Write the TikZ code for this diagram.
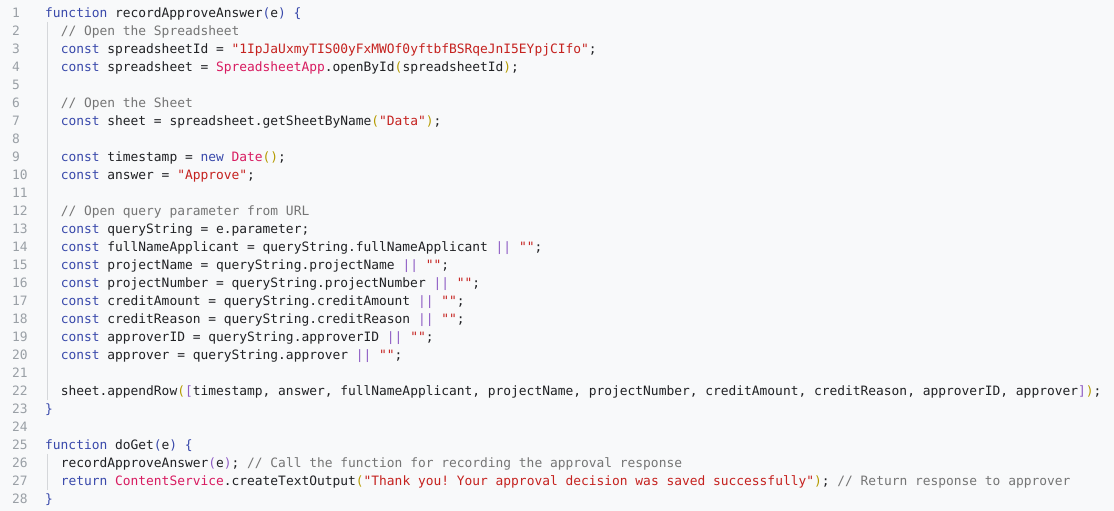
\documentclass[tikz,border=0pt]{standalone}
\usepackage{fontspec}
\setmonofont{DejaVu Sans Mono}
\definecolor{bgc}{HTML}{F8F9FA}
\definecolor{txc}{HTML}{202124}
\definecolor{kwc}{HTML}{3949AB}
\definecolor{cmc}{HTML}{757575}
\definecolor{stc}{HTML}{C5221F}
\definecolor{clc}{HTML}{D81B60}
\definecolor{pbc}{HTML}{B59B00}
\definecolor{pcc}{HTML}{8E5CC4}
\definecolor{lnc}{HTML}{9AA0A6}
\definecolor{guc}{HTML}{D5D7DA}
\newcommand{\Kw}[1]{\textcolor{kwc}{#1}}
\newcommand{\Cm}[1]{\textcolor{cmc}{#1}}
\newcommand{\Sq}[1]{\textcolor{stc}{#1}}
\newcommand{\Cl}[1]{\textcolor{clc}{#1}}
\newcommand{\PA}[1]{\textcolor{kwc}{#1}}
\newcommand{\PB}[1]{\textcolor{pbc}{#1}}
\newcommand{\PC}[1]{\textcolor{pcc}{#1}}
\tikzset{codeline/.style={anchor=base west,inner sep=0pt,font=\fontsize{12.9}{15}\ttfamily,text=txc},
lnum/.style={anchor=base west,inner sep=0pt,font=\fontsize{12.9}{15}\ttfamily,text=lnc},
guide/.style={draw=guc,line width=0.8pt}}
\newcommand{\CL}[3]{\node[lnum] (n#1) at (12,{511-13-18*(#1-1)-4.5}) {#1};
\node[codeline] (l#1) at ({45+#2*15.58},{511-13-18*(#1-1)-4.5}) {#3};}
\begin{document}
\begin{tikzpicture}[x=1pt,y=1pt]
\fill[bgc] (0,0) rectangle (1114,511);
\useasboundingbox (0,0) rectangle (1114,511);
\coordinate (g1a) at (47,{511-22}); \coordinate (g1b) at (47,{511-13-18*21-9});
\coordinate (g2a) at (47,{511-13-18*25+9}); \coordinate (g2b) at (47,{511-13-18*26-9});
\draw[guide] (g1a) -- (g1b);
\draw[guide] (g2a) -- (g2b);
\CL{1}{0}{\Kw{function} recordApproveAnswer\PA{(}e\PA{)} \PA{\{}}
\CL{2}{1}{\Cm{// Open the Spreadsheet}}
\CL{3}{1}{\Kw{const} spreadsheetId = \Sq{"1IpJaUxmyTIS00yFxMWOf0yftbfBSRqeJnI5EYpjCIfo"};}
\CL{4}{1}{\Kw{const} spreadsheet = \Cl{SpreadsheetApp}.openById\PB{(}spreadsheetId\PB{)};}
\CL{5}{0}{}
\CL{6}{1}{\Cm{// Open the Sheet}}
\CL{7}{1}{\Kw{const} sheet = spreadsheet.getSheetByName\PB{(}\Sq{"Data"}\PB{)};}
\CL{8}{0}{}
\CL{9}{1}{\Kw{const} timestamp = \Kw{new} \Cl{Date}\PB{()};}
\CL{10}{1}{\Kw{const} answer = \Sq{"Approve"};}
\CL{11}{0}{}
\CL{12}{1}{\Cm{// Open query parameter from URL}}
\CL{13}{1}{\Kw{const} queryString = e.parameter;}
\CL{14}{1}{\Kw{const} fullNameApplicant = queryString.fullNameApplicant \PC{||} \Sq{""};}
\CL{15}{1}{\Kw{const} projectName = queryString.projectName \PC{||} \Sq{""};}
\CL{16}{1}{\Kw{const} projectNumber = queryString.projectNumber \PC{||} \Sq{""};}
\CL{17}{1}{\Kw{const} creditAmount = queryString.creditAmount \PC{||} \Sq{""};}
\CL{18}{1}{\Kw{const} creditReason = queryString.creditReason \PC{||} \Sq{""};}
\CL{19}{1}{\Kw{const} approverID = queryString.approverID \PC{||} \Sq{""};}
\CL{20}{1}{\Kw{const} approver = queryString.approver \PC{||} \Sq{""};}
\CL{21}{0}{}
\CL{22}{1}{sheet.appendRow\PB{(}\PC{[}timestamp, answer, fullNameApplicant, projectName, projectNumber, creditAmount, creditReason, approverID, approver\PC{]}\PB{)};}
\CL{23}{0}{\PA{\}}}
\CL{24}{0}{}
\CL{25}{0}{\Kw{function} doGet\PA{(}e\PA{)} \PA{\{}}
\CL{26}{1}{recordApproveAnswer\PC{(}e\PC{)}; \Cm{// Call the function for recording the approval response}}
\CL{27}{1}{\Kw{return} \Cl{ContentService}.createTextOutput\PB{(}\Sq{"Thank you! Your approval decision was saved successfully"}\PB{)}; \Cm{// Return response to approver}}
\CL{28}{0}{\PA{\}}}
\end{tikzpicture}
\end{document}
